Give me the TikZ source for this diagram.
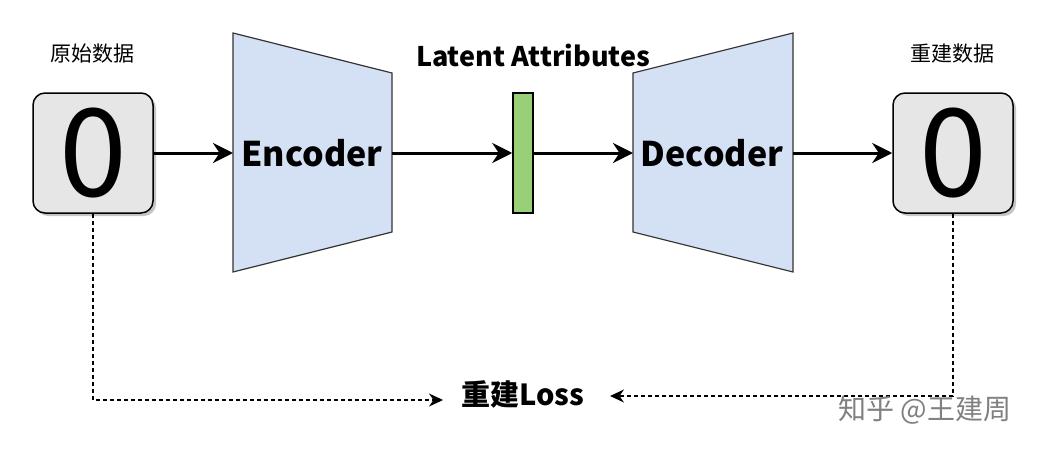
\documentclass[tikz,border=0pt]{standalone}
\usepackage{fontspec}
\setmainfont{Noto Sans CJK SC}
\newfontfamily\cjk{Noto Sans CJK SC}
\usetikzlibrary{arrows.meta,shadows}
\definecolor{boxgray}{HTML}{E6E6E6}
\definecolor{trapblue}{HTML}{D4E1F5}
\definecolor{bargreen}{HTML}{97D077}
\tikzset{
  databox/.style={draw,line width=1.5pt,rounded corners=12pt,fill=boxgray,minimum width=120pt,minimum height=120pt,inner sep=0pt,drop shadow={shadow xshift=3pt,shadow yshift=-3pt,fill=black!45}},
  trap/.style={draw=black!80,line width=1.2pt,fill=trapblue},
  flow/.style={line width=3pt,-{Stealth[length=20pt,width=20pt]}},
  lossline/.style={line width=1.2pt,dash pattern=on 4pt off 3pt,-{Stealth[length=14pt,width=13pt]}},
  lbl/.style={font=\cjk\fontsize{21}{24}\selectfont},
  big/.style={font=\cjk\bfseries\fontsize{34}{38}\selectfont}
}
\begin{document}
\begin{tikzpicture}[x=1pt,y=-1pt]
\useasboundingbox (0,0) rectangle (1050,458);
\node[databox,font=\fontsize{122}{126}\selectfont] (in) at (93,153) {0};
\node[databox,font=\fontsize{122}{126}\selectfont] (out) at (953,153) {0};
\node[lbl] (inl) at (92,54) {原始数据};
\node[lbl] (outl) at (952,54) {重建数据};
\draw[trap] (233,33) -- (392,73) -- (392,232) -- (233,272) -- cycle;
\draw[trap] (633,73) -- (793,33) -- (793,272) -- (633,232) -- cycle;
\coordinate (encL) at (233,153); \coordinate (encR) at (392,153);
\coordinate (decL) at (633,153); \coordinate (decR) at (793,153);
\node[big] (enc) at (312,153) {Encoder};
\node[big] (dec) at (712,153) {Decoder};
\node[draw,line width=1.5pt,fill=bargreen,minimum width=20pt,minimum height=120pt,inner sep=0pt] (bar) at (523,153) {};
\node[font=\cjk\bfseries\fontsize{27}{30}\selectfont] (lat) at (533,55) {Latent Attributes};
\draw[flow] (in.east) -- (encL);
\draw[flow] (encR) -- (bar.west);
\draw[flow] (bar.east) -- (decL);
\draw[flow] (decR) -- (out.west);
\node[font=\cjk\bfseries\fontsize{29}{32}\selectfont] (loss) at (523,394) {重建Loss};
\draw[lossline] (in.south) -- (93,400) -- (443,400);
\draw[lossline] (out.south) -- (953,396) -- (610,396);
\node[font=\cjk\fontsize{28}{32}\selectfont,text=black!50] (wm) at (925,410) {知乎 @王建周};
\end{tikzpicture}
\end{document}
